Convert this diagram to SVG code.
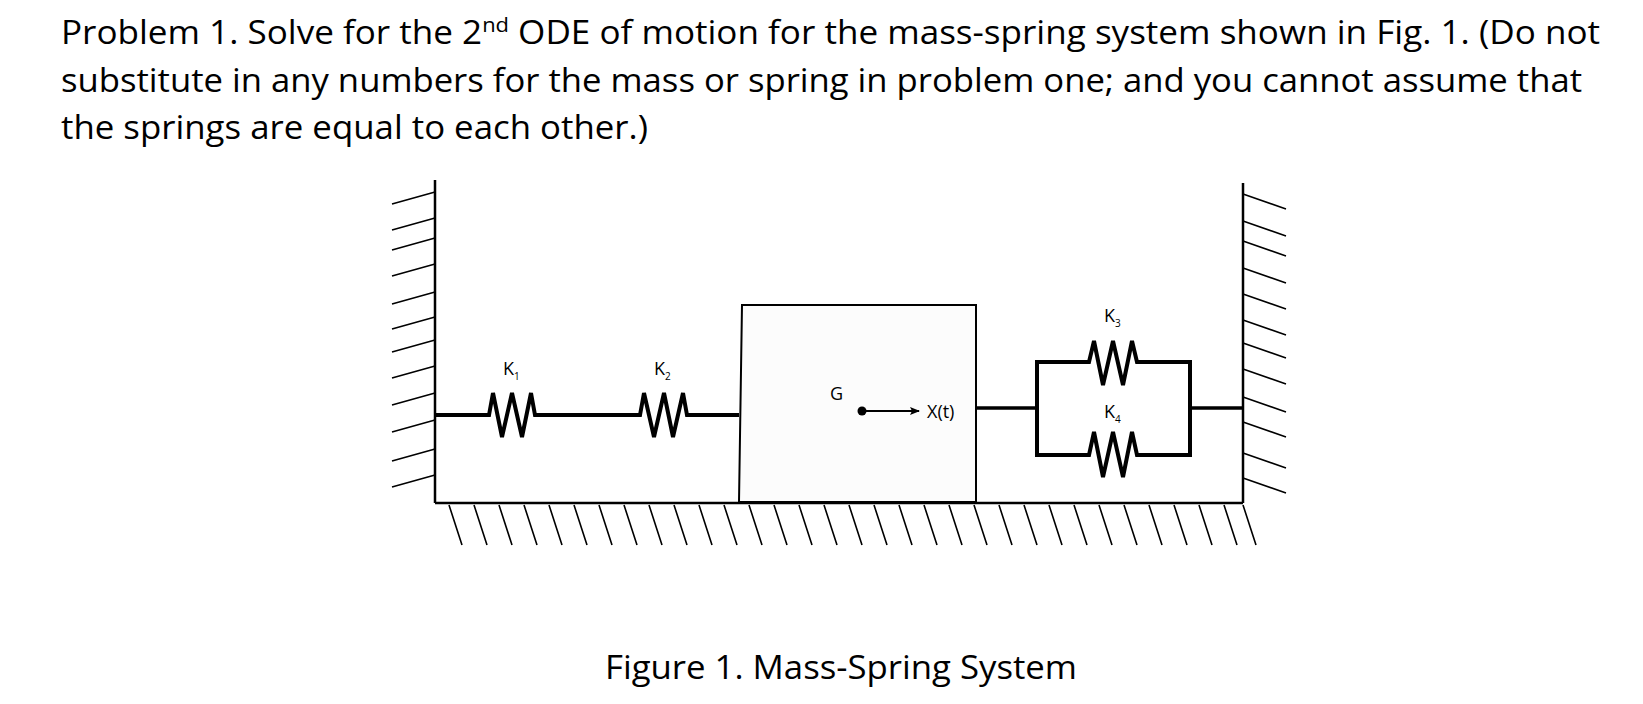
<svg xmlns="http://www.w3.org/2000/svg" width="1643" height="704" viewBox="0 0 1643 704">
<style>
.t{font-family:"Open Sans","Liberation Sans",sans-serif;font-size:32px;fill:#000}
.l{font-family:"Open Sans","Liberation Sans",sans-serif;font-size:18px;fill:#000}
.s{font-size:10px}
.h{stroke:#000;stroke-width:1.6;fill:none}
.w{stroke:#000;stroke-width:2.5;fill:none}
.sp{stroke:#000;stroke-width:4;fill:none;stroke-linejoin:miter}
</style>
<defs>
<marker id="ar" markerWidth="10" markerHeight="8" refX="9" refY="4" orient="auto" markerUnits="userSpaceOnUse"><path d="M0,0 L10,4 L0,8 L2,4 Z" fill="#000"/></marker>
</defs>
<rect width="1643" height="704" fill="#fff"/>
<g id="title">
<text class="t" x="61" y="44" textLength="1539" lengthAdjust="spacingAndGlyphs">Problem 1. Solve for the 2<tspan font-size="20" dy="-12">nd</tspan><tspan dy="12"> ODE of motion for the mass-spring system shown in Fig. 1. (Do not</tspan></text>
<text class="t" x="61" y="92" textLength="1521" lengthAdjust="spacingAndGlyphs">substitute in any numbers for the mass or spring in problem one; and you cannot assume that</text>
<text class="t" x="61" y="139" textLength="587" lengthAdjust="spacingAndGlyphs">the springs are equal to each other.)</text>
</g>
<g id="left-wall">
<line class="w" x1="435" y1="180" x2="435" y2="503"/>
<path class="h" d="M392,204L435,192M392,230L435,218M392,250L435,238M392,276L435,264M392,304L435,292M392,329L435,317M392,352L435,340M392,378L435,366M392,405L435,393M392,432L435,420M392,461L435,449M392,487L435,475"/>
</g>
<g id="right-wall">
<line class="w" x1="1243" y1="183" x2="1243" y2="503"/>
<path class="h" d="M1243,194L1286,209M1243,221L1286,236M1243,241L1286,256M1243,268L1286,283M1243,294L1286,309M1243,320L1286,335M1243,343L1286,358M1243,369L1286,384M1243,397L1286,412M1243,422L1286,437M1243,453L1286,468M1243,478L1286,493"/>
</g>
<g id="ground">
<line class="w" x1="435" y1="503" x2="1243" y2="503"/>
<path class="h" d="M449,505l13,40M474,505l13,40M499,505l13,40M524,505l13,40M549,505l13,40M574,505l13,40M599,505l13,40M624,505l13,40M649,505l13,40M674,505l13,40M699,505l13,40M724,505l13,40M749,505l13,40M774,505l13,40M799,505l13,40M824,505l13,40M849,505l13,40M874,505l13,40M899,505l13,40M924,505l13,40M949,505l13,40M974,505l13,40M999,505l13,40M1024,505l13,40M1049,505l13,40M1074,505l13,40M1099,505l13,40M1124,505l13,40M1149,505l13,40M1174,505l13,40M1199,505l13,40M1224,505l13,40M1243,505l13,40"/>
</g>
<g id="mass">
<path d="M742,305L976,305L976,502L739,502Z" fill="#fcfcfc" stroke="#000" stroke-width="2"/>
<text class="l" x="830" y="400">G</text>
<circle cx="862" cy="411" r="4.5" fill="#000"/>
<text class="l" x="927" y="418">X(t)</text>
</g>
<g id="k1"><text class="l" x="503" y="375">K<tspan class="s" dy="5">1</tspan></text></g>
<g id="k2"><text class="l" x="654" y="375">K<tspan class="s" dy="5">2</tspan></text></g>
<g id="k3"><text class="l" x="1104" y="322">K<tspan class="s" dy="5">3</tspan></text></g>
<g id="k4"><text class="l" x="1104" y="418">K<tspan class="s" dy="5">4</tspan></text></g>
<g id="connectors">
<polyline class="sp" points="435,415 489,415 493,393 502,437 512,393 522,437 531,393 535,415 640,415 644,393 654,437 664,393 673,437 683,393 687,415 739,415"/>
<line x1="862" y1="411" x2="919" y2="411" stroke="#000" stroke-width="2" marker-end="url(#ar)"/>
<line x1="976" y1="408" x2="1037" y2="408" stroke="#000" stroke-width="3.5"/>
<polygon class="sp" points="1037,362 1089,362 1094,341 1103,385 1113,341 1123,385 1132,341 1137,362 1190,362 1190,455 1137,455 1132,432 1123,477 1113,432 1103,477 1094,432 1089,455 1037,455"/>
<line x1="1190" y1="408" x2="1243" y2="408" stroke="#000" stroke-width="3.5"/>
</g>
<text class="t" x="605" y="679" textLength="472" lengthAdjust="spacingAndGlyphs">Figure 1. Mass-Spring System</text>
</svg>
